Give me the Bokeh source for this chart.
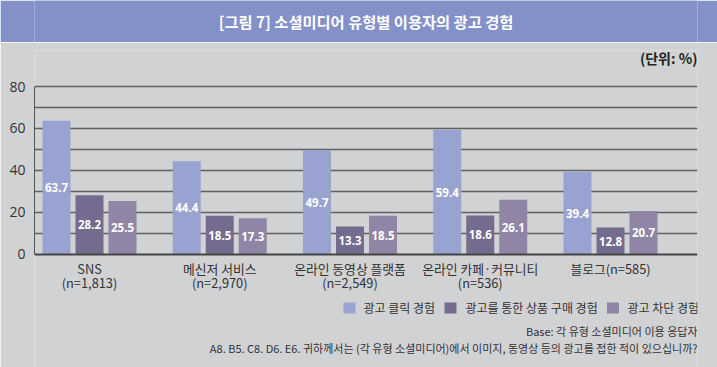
from bokeh.plotting import figure
from bokeh.layouts import column
from bokeh.models import ColumnDataSource, Range1d, FixedTicker, Span
from bokeh.transform import dodge
from bokeh.core.properties import value
from bokeh.embed import file_html
from bokeh.resources import INLINE

# ---- data ----
categories = ["SNS\n(n=1,813)", "메신저 서비스\n(n=2,970)", "온라인 동영상 플랫폼\n(n=2,549)",
              "온라인 카페·커뮤니티\n(n=536)", "블로그(n=585)"]
series_names = ["광고 클릭 경험", "광고를 통한 상품 구매 경험", "광고 차단 경험"]
click = [63.7, 44.4, 49.7, 59.4, 39.4]
purchase = [28.2, 18.5, 13.3, 18.6, 12.8]
block = [25.5, 17.3, 18.5, 26.1, 20.7]
y_ticks = [0, 20, 40, 60, 80]
grid_ticks = [10, 20, 30, 40, 50, 60, 70, 80]

title_text = "[그림 7] 소셜미디어 유형별 이용자의 광고 경험"
unit_text = "(단위: %)"
note1 = "Base: 각 유형 소셜미디어 이용 응답자"
note2 = "A8. B5. C8. D6. E6. 귀하께서는 (각 유형 소셜미디어)에서 이미지, 동영상 등의 광고를 접한 적이 있으십니까?"

colors = ["#99A3D2", "#756B8E", "#9085A5"]
BG = "#D1D2D4"
BAND = "#8391C8"
KR = "Noto Sans CJK KR"
NUM = "Open Sans"
TXT = "#333333"

W = 717

# ---- header band ----
header = figure(width=W, height=42, x_range=(0, 1), y_range=(0, 1),
                x_axis_type=None, y_axis_type=None, toolbar_location=None,
                output_backend="svg", min_border=0)
header.background_fill_color = BAND
header.border_fill_color = BAND
header.outline_line_color = None
header.grid.visible = False
header.text(x=[0.5], y=[0.52], text=[title_text], text_color="white",
            text_font=value(KR), text_font_size="15.3px", text_font_style="bold",
            text_align="center", text_baseline="middle")

# ---- main chart (frame spans plot + notes area) ----
XMIN, XMAX = -0.4223, 4.668
YMAX, YMIN = 97.143, -53.81
PXU = 130.25   # px per category unit
PYU = 2.1      # px per value unit


def hx(px):   # horizontal page px -> data x (for decorations)
    return (px - 89) / PXU


def vy(py):   # vertical page px -> data y (for decorations)
    return (254 - py) / PYU


xs = list(range(len(categories)))
src = ColumnDataSource(dict(x=xs, click=click, purchase=purchase, block=block,
                            click_h=[v / 2 for v in click],
                            purchase_h=[v / 2 for v in purchase],
                            block_h=[v / 2 for v in block],
                            click_t=[f"{v:.1f}" for v in click],
                            purchase_t=[f"{v:.1f}" for v in purchase],
                            block_t=[f"{v:.1f}" for v in block]))

p = figure(width=W, height=325, x_range=Range1d(XMIN, XMAX), y_range=Range1d(YMIN, YMAX),
           x_axis_type=None, toolbar_location=None, output_backend="svg",
           min_border_top=8, min_border_bottom=0, min_border_left=34, min_border_right=20)
p.background_fill_color = BG
p.border_fill_color = BG
p.outline_line_color = None

bw = 0.215
off = 0.2534
for key, o, c in zip(["click", "purchase", "block"], [-off, 0, off], colors):
    p.vbar(x=dodge("x", o, range=p.x_range), top=key, bottom=0, width=bw, source=src,
           fill_color=c, line_color=None)
    p.text(x=dodge("x", o, range=p.x_range), y=key + "_h", text=key + "_t", source=src,
           text_color="white", text_font=value(NUM), text_font_size="11.5px",
           text_font_style="bold", text_align="center", text_baseline="middle")

# y axis & grid
p.yaxis.ticker = FixedTicker(ticks=y_ticks)
p.yaxis.bounds = (0, 80)
p.yaxis.axis_line_color = "#555555"
p.yaxis.major_tick_line_color = None
p.yaxis.major_tick_out = 0
p.yaxis.major_tick_in = 0
p.yaxis.minor_tick_line_color = None
p.yaxis.major_label_standoff = 9
p.yaxis.major_label_text_font = NUM
p.yaxis.major_label_text_font_size = "14px"
p.yaxis.major_label_text_color = TXT

p.xgrid.visible = False
p.ygrid.ticker = FixedTicker(ticks=grid_ticks)
p.ygrid.grid_line_color = "#606060"
p.ygrid.grid_line_width = 1.5

# x axis line at 0
p.add_layout(Span(location=0, dimension="width", line_color="#444444", line_width=2))

# category labels (two lines)
line1 = [c.split("\n")[0] for c in categories]
line2 = [c.split("\n")[1] if "\n" in c else "" for c in categories]
p.text(x=xs, y=[vy(268)] * len(xs), text=line1, text_align="center", text_baseline="middle",
       text_font=value(KR), text_font_size="12.8px", text_color=TXT)
p.text(x=xs, y=[vy(282)] * len(xs), text=line2, text_align="center", text_baseline="middle",
       text_font=value(KR), text_font_size="12.8px", text_color=TXT)

# unit label
p.text(x=[XMAX], y=[vy(57)], text=[unit_text], text_align="right", text_baseline="middle",
       text_font=value(KR), text_font_size="14px", text_font_style="bold",
       text_color="#222222")

# legend (manual)
sq_px = [349, 450, 612.5]
txt_px = [363, 465, 627]
ly = vy(307.5)
p.rect(x=[hx(v) for v in sq_px], y=[ly] * 3, width=12, height=11,
       width_units="screen", height_units="screen", fill_color=colors, line_color=None)
p.text(x=[hx(v) for v in txt_px], y=[ly] * 3, text=series_names, text_align="left",
       text_baseline="middle", text_font=value(KR), text_font_size="12px", text_color=TXT)

# notes
p.text(x=[XMAX, XMAX], y=[vy(331), vy(348)], text=[note1, note2], text_align="right",
       text_baseline="middle", text_font=value(KR), text_font_size="11px", text_color=TXT)

layout = column(header, p, spacing=0)
open("out.html", "w").write(file_html(layout, INLINE))
